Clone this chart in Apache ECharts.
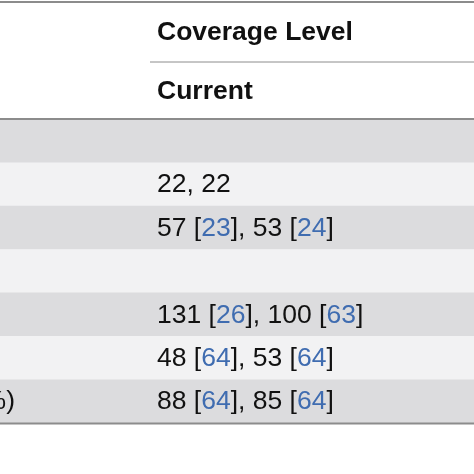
<!DOCTYPE html><html><head><meta charset="utf-8"><script src="https://cdn.jsdelivr.net/npm/echarts@6/dist/echarts.min.js"></script>
<style>html,body{margin:0;padding:0;background:#fff}#c{width:474px;height:474px}</style></head><body><div id="c"></div><script>
const headers=["Coverage Level","Current"];
// each row: list of [value, reference] pairs; empty = section row
const rows=[[],[["22",null],["22",null]],[["57","23"],["53","24"]],[],[["131","26"],["100","63"]],[["48","64"],["53","64"]],[["88","64"],["85","64"]]];
const leftStubs=["","","","","","","%)"];
const chart=echarts.init(document.getElementById('c'));
const F='"Liberation Sans", Arial, sans-serif';
const FS=26.5;
const g=[];
const top0=119,rh=43.4;
rows.forEach((r,i)=>{
  const y=top0+i*rh;
  g.push({type:'rect',shape:{x:0,y:y,width:474,height:rh+0.5},style:{fill:i%2===0?'#dcdcde':'#f2f2f3'},silent:true});
  if(r.length){
    const parts=r.map(p=>p[1]?('{k|'+p[0]+' [}{b|'+p[1]+'}{k|]}'):('{k|'+p[0]+'}'));
    g.push({type:'text',x:157,y:y+rh/2+1,style:{text:parts.join('{k|, }'),fontFamily:F,fontSize:FS,verticalAlign:'middle',
      rich:{k:{fill:'#111',fontSize:FS,fontFamily:F},b:{fill:'#3f6cb0',fontSize:FS,fontFamily:F}}}});
  }
  if(leftStubs[i]) g.push({type:'text',x:15,y:y+rh/2+1,style:{text:leftStubs[i],fontFamily:F,fontSize:FS,fill:'#111',align:'right',verticalAlign:'middle'}});
});
const line=(x1,y1,x2,y2,w)=>g.push({type:'line',shape:{x1,y1,x2,y2},style:{stroke:'#8c8c8c',lineWidth:w}});
line(0,2,474,2,2);
line(150,62,474,62,1);
line(0,119,474,119,2);
line(0,423.5,474,423.5,2);
g.push({type:'text',x:157,y:33,style:{text:headers[0],fontFamily:F,fontSize:FS,fontWeight:'bold',fill:'#111',verticalAlign:'middle'}});
g.push({type:'text',x:157,y:92,style:{text:headers[1],fontFamily:F,fontSize:FS,fontWeight:'bold',fill:'#111',verticalAlign:'middle'}});
chart.setOption({animation:false,graphic:g});
</script></body></html>
